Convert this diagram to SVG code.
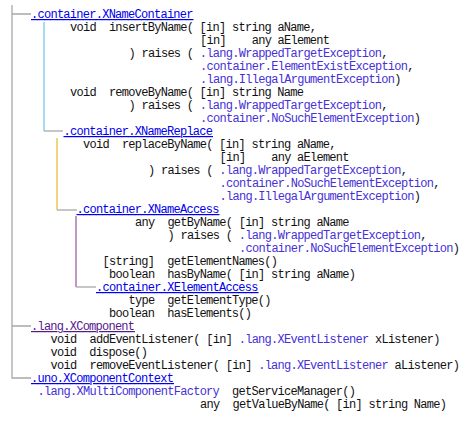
<svg xmlns="http://www.w3.org/2000/svg" width="469" height="422" viewBox="0 0 469 422">
<style>
text{font-family:"Liberation Mono","DejaVu Sans Mono",monospace;font-size:12px;fill:#111;white-space:pre}
.h{fill:#0000ee;text-decoration:underline}
.v{fill:#551a8b;text-decoration:underline}
.x{fill:#4630d8}
.g{stroke:#a8a8a8;stroke-width:1.3;fill:none}
</style>
<rect width="469" height="422" fill="#fff"/>
<g id="connectors">
<path class="g" d="M12 5V378H31M12 14H31M12 326H31"/>
<path d="M44 22V131" stroke="#8ccfee" stroke-width="1.5"/>
<path class="g" d="M44 131H63"/>
<path d="M57 138V210" stroke="#f2c25a" stroke-width="1.5"/>
<path class="g" d="M57 210H77"/>
<path d="M76 216V287" stroke="#a060a8" stroke-width="1.3"/>
<path class="g" d="M76 287H96"/>
</g>
<g id="XNameContainer">
<text x="31" y="18" class="h" textLength="162.5" lengthAdjust="spacing">.container.XNameContainer</text>
<text x="70" y="31" textLength="247" lengthAdjust="spacing">void  insertByName( [in] string aName,</text>
<text x="200" y="44" textLength="130" lengthAdjust="spacing">[in]    any aElement</text>
<text x="128.5" y="57" textLength="260" lengthAdjust="spacing">) raises ( <tspan class="x">.lang.WrappedTargetException</tspan>,</text>
<text x="200" y="70" textLength="214.5" lengthAdjust="spacing"><tspan class="x">.container.ElementExistException</tspan>,</text>
<text x="200" y="83" textLength="201.5" lengthAdjust="spacing"><tspan class="x">.lang.IllegalArgumentException</tspan>)</text>
<text x="70" y="96" textLength="234" lengthAdjust="spacing">void  removeByName( [in] string Name</text>
<text x="128.5" y="109" textLength="260" lengthAdjust="spacing">) raises ( <tspan class="x">.lang.WrappedTargetException</tspan>,</text>
<text x="200" y="122" textLength="221" lengthAdjust="spacing"><tspan class="x">.container.NoSuchElementException</tspan>)</text>
</g>
<g id="XNameReplace">
<text x="63.5" y="135" class="h" textLength="149.5" lengthAdjust="spacing">.container.XNameReplace</text>
<text x="83" y="148" textLength="253.5" lengthAdjust="spacing">void  replaceByName( [in] string aName,</text>
<text x="219.5" y="161" textLength="130" lengthAdjust="spacing">[in]    any aElement</text>
<text x="148" y="174" textLength="260" lengthAdjust="spacing">) raises ( <tspan class="x">.lang.WrappedTargetException</tspan>,</text>
<text x="219.5" y="187" textLength="221" lengthAdjust="spacing"><tspan class="x">.container.NoSuchElementException</tspan>,</text>
<text x="219.5" y="200" textLength="201.5" lengthAdjust="spacing"><tspan class="x">.lang.IllegalArgumentException</tspan>)</text>
</g>
<g id="XNameAccess">
<text x="76.5" y="213" class="h" textLength="143" lengthAdjust="spacing">.container.XNameAccess</text>
<text x="135" y="226" textLength="214.5" lengthAdjust="spacing">any  getByName( [in] string aName</text>
<text x="167.5" y="239" textLength="260" lengthAdjust="spacing">) raises ( <tspan class="x">.lang.WrappedTargetException</tspan>,</text>
<text x="239" y="252" textLength="221" lengthAdjust="spacing"><tspan class="x">.container.NoSuchElementException</tspan>)</text>
<text x="102.5" y="265" textLength="175.5" lengthAdjust="spacing">[string]  getElementNames()</text>
<text x="109" y="278" textLength="247" lengthAdjust="spacing">boolean  hasByName( [in] string aName)</text>
</g>
<g id="XElementAccess">
<text x="96" y="291" class="h" textLength="162.5" lengthAdjust="spacing">.container.XElementAccess</text>
<text x="128.5" y="304" textLength="143" lengthAdjust="spacing">type  getElementType()</text>
<text x="109" y="317" textLength="143" lengthAdjust="spacing">boolean  hasElements()</text>
</g>
<g id="XComponent">
<text x="31" y="330" class="v" textLength="104" lengthAdjust="spacing">.lang.XComponent</text>
<text x="50.5" y="343" textLength="390" lengthAdjust="spacing">void  addEventListener( [in] <tspan class="x">.lang.XEventListener</tspan> xListener)</text>
<text x="50.5" y="356" textLength="97.5" lengthAdjust="spacing">void  dispose()</text>
<text x="50.5" y="369" textLength="409.5" lengthAdjust="spacing">void  removeEventListener( [in] <tspan class="x">.lang.XEventListener</tspan> aListener)</text>
</g>
<g id="XComponentContext">
<text x="31" y="382" class="h" textLength="143" lengthAdjust="spacing">.uno.XComponentContext</text>
<text x="37.5" y="395" textLength="318.5" lengthAdjust="spacing"><tspan class="x">.lang.XMultiComponentFactory</tspan>  getServiceManager()</text>
<text x="200" y="408" textLength="247" lengthAdjust="spacing">any  getValueByName( [in] string Name)</text>
</g>
</svg>
